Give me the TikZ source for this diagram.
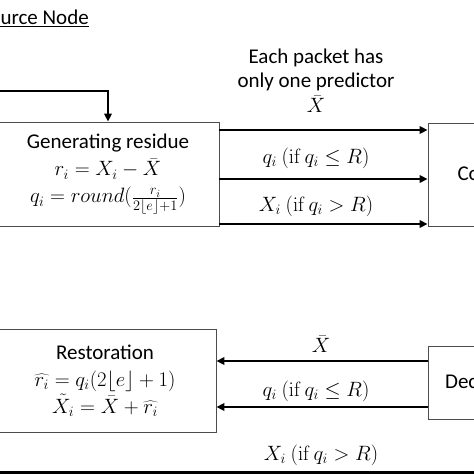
\documentclass[tikz,border=0pt]{standalone}
\usepackage[no-math]{fontspec}
\setmainfont{Carlito}
\usetikzlibrary{arrows.meta}
\begin{document}
\begin{tikzpicture}[x=1pt,y=-1pt,
  box/.style={draw=black!70,line width=0.9pt,fill=white,align=center,inner sep=0pt,
    font=\fontsize{21}{27}\selectfont},
  lbl/.style={font=\fontsize{21}{24}\selectfont,align=center,inner sep=0pt},
  arr/.style={line width=2.4pt,-{Triangle[length=8pt,width=7.5pt]}},
  ln/.style={line width=2.4pt}]
\useasboundingbox (0,0) rectangle (474,474);
\clip (0,0) rectangle (474,474);
% title
\node[lbl,anchor=east] (title) at (89,18) {\underline{Source Node}};
% boxes
\node[box,minimum width=222pt,minimum height=104pt] (gen) at (108,174)
  {Generating residue\\ $r_i = X_i - \bar{X}$\\ $q_i = round(\frac{r_i}{2\lfloor e\rfloor+1})$};
\node[box,minimum width=170pt,minimum height=103pt] (comp) at (513,174.5) {Compression};
\node[box,minimum width=222pt,minimum height=103pt] (rest) at (105,380.5)
  {Restoration\\ $\widehat{r_i} = q_i(2\lfloor e\rfloor+1)$\\ $\tilde{X}_i = \bar{X} + \widehat{r_i}$};
\node[box,minimum width=166pt,minimum height=73pt] (dec) at (511,382.5) {Decompression};
% feeder
\coordinate (in) at (-5,91);
\draw[arr] (in) -| (gen.north);
% top arrows
\draw[arr] (gen.east |- 0,130) -- (comp.west |- 0,130);
\draw[arr] (gen.east |- 0,179) -- (comp.west |- 0,179);
\draw[arr] (gen.east |- 0,224) -- (comp.west |- 0,224);
\node[lbl] (l1) at (316,70) {Each packet has\\ only one predictor};
\node[lbl] (l2) at (316,104) {$\bar{X}$};
\node[lbl] (l3) at (316,158) {$q_i\ (\mathrm{if}\, q_i \le R)$};
\node[lbl] (l4) at (316,206) {$X_i\ (\mathrm{if}\, q_i > R)$};
% bottom arrows
\draw[arr] (dec.west |- 0,361) -- (rest.east |- 0,361);
\draw[arr] (dec.west |- 0,407) -- (rest.east |- 0,407);
\node[lbl] (l5) at (321,344) {$\bar{X}$};
\node[lbl] (l6) at (316,391) {$q_i\ (\mathrm{if}\, q_i \le R)$};
\node[lbl] (l7) at (321,455) {$X_i\ (\mathrm{if}\, q_i > R)$};
\coordinate (bl) at (-5,472);
\coordinate (br) at (480,472);
\draw[ln,line width=3pt] (br) -- (bl);
\end{tikzpicture}
\end{document}
